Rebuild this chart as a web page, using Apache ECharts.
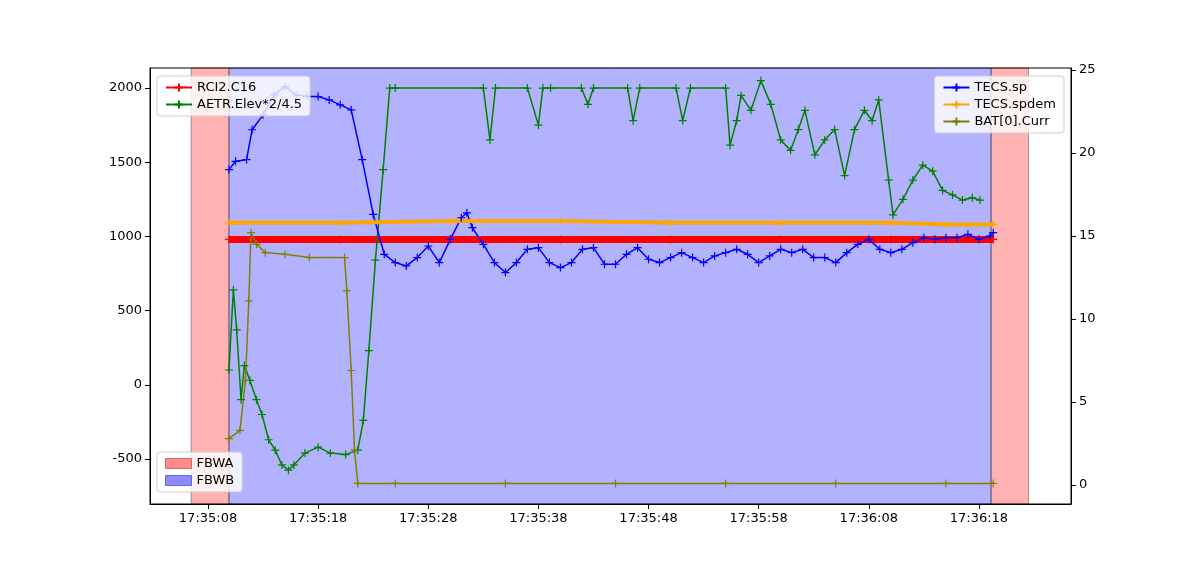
<!DOCTYPE html>
<html>
<head>
<meta charset="utf-8">
<script src="https://cdn.jsdelivr.net/npm/echarts@6/dist/echarts.min.js"></script>
<style>body{margin:0}#chart{width:1190px;height:566px}</style>
</head>
<body>
<div id="chart"></div>
<script>
// time in seconds after 17:35:00
var spTimes = [9.9,10.5,11.5,12,13,14,15,16,17,18,19,20,21,22,23,24,25,26,27,28,29,30,31,31.5,32,33,34,35,36,37,38,39,40,41,42,43,44,45,46,47,48,49,50,51,52,53,54,55,56,57,58,59,60,61,62,63,64,65,66,67,68,69,70,71,72,73,74,75,76,77,78,79,79.3];
var spVals = [19.0,19.5,19.6,21.4,22.3,23.5,24.0,23.5,23.4,23.4,23.2,22.9,22.6,19.6,16.3,13.9,13.4,13.2,13.7,14.4,13.4,14.8,16.1,16.4,15.5,14.5,13.4,12.8,13.4,14.2,14.3,13.4,13.1,13.4,14.2,14.3,13.3,13.3,13.9,14.3,13.6,13.4,13.7,14.0,13.7,13.4,13.8,14.0,14.2,13.9,13.4,13.8,14.2,14.0,14.2,13.7,13.7,13.4,14.0,14.5,14.8,14.2,14.0,14.2,14.6,14.9,14.8,14.9,14.9,15.1,14.8,15.0,15.2];

var elevTimes = [9.9,10.3,10.6,11.0,11.3,11.8,12.4,12.9,13.5,14.1,14.7,15.3,15.8,16.8,18.0,19.1,20.5,21.6,22.1,22.6,23.2,23.9,24.5,25.0,33.0,33.6,34.1,37.0,38.0,38.4,39.1,41.9,42.5,43.0,46.1,46.6,47.2,50.5,51.1,51.8,55.0,55.4,56.0,56.4,57.3,58.2,59.1,60.0,60.9,61.6,62.2,63.1,64.0,64.9,65.8,66.7,67.6,68.3,68.9,69.8,70.2,71.1,72.0,72.9,73.8,74.7,75.6,76.5,77.4,78.1];
var elevVals = [100,640,370,-100,130,30,-100,-200,-370,-440,-540,-575,-540,-460,-420,-460,-470,-440,-240,230,840,1450,2000,2000,2000,1650,2000,2000,1750,2000,2000,2000,1890,2000,2000,1780,2000,2000,1780,2000,2000,1615,1780,1950,1850,2050,1890,1650,1580,1720,1850,1550,1650,1720,1410,1720,1850,1780,1920,1380,1145,1250,1380,1480,1440,1310,1280,1245,1260,1245];

var currTimes = [9.9,10.9,11.4,11.7,11.9,12.4,13.2,15.0,17.2,20.4,20.6,21.0,21.3,21.6,25,35,45,55,65,75,79.3];
var currVals = [2.8,3.3,6.3,11.1,15.2,14.5,14.0,13.9,13.7,13.7,11.7,6.9,2.1,0.1,0.1,0.1,0.1,0.1,0.1,0.1,0.1];

var demTimes = [9.9,20,30,40,50,60,70,75,79.3];
var demVals = [15.8,15.8,15.9,15.9,15.8,15.8,15.8,15.7,15.7];

var rciTimes = [9.9,20,30,40,50,60,70,79.3];
var rciVals = [980,980,980,980,980,980,980,980];

var modeFBWA = [[6.46,9.9],[79.1,82.5]];
var modeFBWB = [[9.9,79.1]];
var xTicks = [8,18,28,38,48,58,68,78];
var leftTicks = [-500,0,500,1000,1500,2000];
var rightTicks = [0,5,10,15,20,25];

function pairs(ts, vs){ return ts.map(function(t,i){ return [t, vs[i]]; }); }
function fmt(t){
    var m = 35 + Math.floor(t/60), s = Math.round(t % 60);
    return '17:' + m + ':' + (s < 10 ? '0' + s : s);
}
var plus = 'path://M5,0L5,10M0,5L10,5';
function line(name, color, ts, vs, yi, w){
    return {
        name: name, type: 'line', yAxisIndex: yi, data: pairs(ts, vs),
        symbol: plus, symbolSize: 8, showAllSymbol: true,
        lineStyle: {color: color, width: w || 1.5},
        itemStyle: {color: color, borderColor: color, borderWidth: 1.2},
        z: 3
    };
}
var axisText = {color: '#000', fontSize: 13, fontFamily: 'DejaVu Sans', formatter: function(v){ return String(v); }};
var legendBase = {
    orient: 'vertical', backgroundColor: 'rgba(255,255,255,0.8)', borderColor: '#ccc',
    borderWidth: 1, borderRadius: 3, padding: [5, 8], itemGap: 4, itemWidth: 26, itemHeight: 10,
    textStyle: {fontSize: 13, fontFamily: 'DejaVu Sans', color: '#000'}
};

var chart = echarts.init(document.getElementById('chart'));
chart.setOption({
    animation: false,
    grid: {left: 150, right: 119, top: 68, bottom: 62, show: true, borderColor: '#000', borderWidth: 1, backgroundColor: 'transparent'},
    legend: [
        Object.assign({}, legendBase, {left: 157, top: 76, data: ['RCI2.C16', 'AETR.Elev*2/4.5']}),
        Object.assign({}, legendBase, {right: 126, top: 76, data: ['TECS.sp', 'TECS.spdem', 'BAT[0].Curr']}),
        Object.assign({}, legendBase, {left: 157, top: 452, data: [
            {name: 'FBWA', icon: 'rect', itemStyle: {color: 'rgba(255,0,0,0.45)', borderColor: '#d66', borderWidth: 1}},
            {name: 'FBWB', icon: 'rect', itemStyle: {color: 'rgba(0,0,255,0.45)', borderColor: '#66d', borderWidth: 1}}
        ]})
    ],
    xAxis: {
        type: 'value', min: 2.73, max: 86.36,
        splitLine: {show: false},
        axisLine: {onZero: false, lineStyle: {color: '#000'}},
        axisTick: {customValues: xTicks, lineStyle: {color: '#000'}},
        axisLabel: Object.assign({}, axisText, {customValues: xTicks, formatter: fmt})
    },
    yAxis: [
        {
            type: 'value', min: -803, max: 2135, position: 'left',
            splitLine: {show: false},
            axisLine: {show: true, onZero: false, lineStyle: {color: '#000'}},
            axisTick: {show: true, customValues: leftTicks, lineStyle: {color: '#000'}},
            axisLabel: Object.assign({customValues: leftTicks}, axisText)
        },
        {
            type: 'value', min: -1.14, max: 25.12, position: 'right',
            splitLine: {show: false},
            axisLine: {show: true, onZero: false, lineStyle: {color: '#000'}},
            axisTick: {show: true, customValues: rightTicks, lineStyle: {color: '#000'}},
            axisLabel: Object.assign({customValues: rightTicks}, axisText)
        }
    ],
    series: [
        {
            name: 'FBWA', type: 'line', data: [], itemStyle: {color: 'rgba(255,0,0,0.45)'},
            markArea: {silent: true, itemStyle: {color: 'rgba(255,0,0,0.3)', borderColor: 'rgba(0,0,0,0.35)', borderWidth: 1},
                data: modeFBWA.map(function(r){ return [{xAxis: r[0]}, {xAxis: r[1]}]; })},
            z: 1
        },
        {
            name: 'FBWB', type: 'line', data: [], itemStyle: {color: 'rgba(0,0,255,0.45)'},
            markArea: {silent: true, itemStyle: {color: 'rgba(0,0,255,0.3)', borderColor: 'rgba(0,0,0,0.35)', borderWidth: 1},
                data: modeFBWB.map(function(r){ return [{xAxis: r[0]}, {xAxis: r[1]}]; })},
            z: 1
        },
        line('RCI2.C16', '#ff0000', rciTimes, rciVals, 0, 7),
        line('AETR.Elev*2/4.5', '#008000', elevTimes, elevVals, 0),
        line('TECS.sp', '#0000ff', spTimes, spVals, 1),
        line('TECS.spdem', '#ffa500', demTimes, demVals, 1, 4),
        line('BAT[0].Curr', '#808000', currTimes, currVals, 1)
    ]
});
</script>
</body>
</html>
